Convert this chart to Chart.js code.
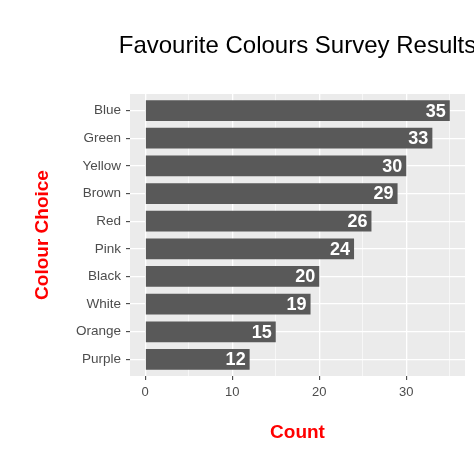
<!DOCTYPE html>
<html>
<head>
<meta charset="utf-8">
<script src="https://cdn.jsdelivr.net/npm/chart.js@4.4.1/dist/chart.umd.min.js"></script>
<style>
  html, body { margin: 0; padding: 0; background: #ffffff; }
  #wrap { width: 474px; height: 474px; }
</style>
</head>
<body>
<div id="wrap"><canvas id="chart" width="474" height="474"></canvas></div>
<script>
// survey data, top to bottom
const colours = ['Blue', 'Green', 'Yellow', 'Brown', 'Red', 'Pink', 'Black', 'White', 'Orange', 'Purple'];
const counts = [35, 33, 30, 29, 26, 24, 20, 19, 15, 12];
const xTicks = [0, 5, 10, 15, 20, 25, 30, 35];
const chartTitle = 'Favourite Colours Survey Results';

const FONT = '"Liberation Sans", Arial, sans-serif';

// grey panel behind the grid, ggplot style
const panelBg = {
    id: 'panelBg',
    beforeDraw(chart) {
        const a = chart.chartArea;
        const ctx = chart.ctx;
        ctx.save();
        ctx.fillStyle = '#EBEBEB';
        ctx.fillRect(a.left, a.top, a.right - a.left, a.bottom - a.top);
        ctx.restore();
    }
};

// title centred over the panel (Chart.js title squeezes text to the box width)
const panelTitle = {
    id: 'panelTitle',
    afterDraw(chart) {
        const a = chart.chartArea;
        const ctx = chart.ctx;
        ctx.save();
        ctx.fillStyle = '#000000';
        ctx.font = '24px ' + FONT;
        ctx.textAlign = 'center';
        ctx.textBaseline = 'alphabetic';
        ctx.fillText(chartTitle, (a.left + a.right) / 2, 53);
        ctx.restore();
    }
};

// white count labels inside the bar ends
const barLabels = {
    id: 'barLabels',
    afterDatasetsDraw(chart) {
        const ctx = chart.ctx;
        const meta = chart.getDatasetMeta(0);
        ctx.save();
        ctx.fillStyle = '#ffffff';
        ctx.font = 'bold 18px ' + FONT;
        ctx.textAlign = 'right';
        ctx.textBaseline = 'middle';
        meta.data.forEach((bar, i) => {
            ctx.fillText(String(counts[i]), bar.x - 4, bar.y + 1);
        });
        ctx.restore();
    }
};

const isMajor = v => v % 10 === 0;

new Chart(document.getElementById('chart'), {
    type: 'bar',
    data: {
        datasets: [{
            data: counts.map((c, i) => ({ x: c, y: i })),
            backgroundColor: '#595959',
            borderWidth: 0,
            barPercentage: 0.75,
            categoryPercentage: 1
        }]
    },
    options: {
        indexAxis: 'y',
        responsive: false,
        animation: false,
        devicePixelRatio: 1,
        layout: { padding: { left: 0, right: 9, top: 94, bottom: 0 } },
        plugins: {
            legend: { display: false },
            tooltip: { enabled: false },
            title: { display: false }
        },
        scales: {
            x: {
                type: 'linear',
                min: -1.75,
                max: 36.75,
                afterBuildTicks: s => { s.ticks = xTicks.map(v => ({ value: v })); },
                afterFit: s => { s.height = 98; },
                border: { display: false },
                grid: {
                    color: '#ffffff',
                    lineWidth: c => isMajor(c.tick.value) ? 1.3 : 0.6,
                    tickColor: c => isMajor(c.tick.value) ? '#333333' : 'rgba(0,0,0,0)',
                    tickLength: 4,
                    tickWidth: 1
                },
                ticks: {
                    color: '#4D4D4D',
                    font: { family: FONT, size: 13 },
                    padding: 5,
                    maxRotation: 0,
                    callback: v => isMajor(v) ? String(v) : ''
                },
                title: {
                    display: true,
                    text: 'Count',
                    color: '#FF0000',
                    font: { family: FONT, size: 19, weight: 'bold', lineHeight: 1.2 },
                    padding: { top: 0, bottom: 29.6 }
                }
            },
            y: {
                type: 'linear',
                reverse: true,
                offset: false,
                min: -0.6,
                max: colours.length - 1 + 0.6,
                afterBuildTicks: s => { s.ticks = colours.map((c, i) => ({ value: i })); },
                afterFit: s => { s.width = 130; },
                border: { display: false },
                grid: {
                    offset: false,
                    color: '#ffffff',
                    lineWidth: 1.3,
                    tickColor: '#333333',
                    tickLength: 4,
                    tickWidth: 1
                },
                ticks: {
                    color: '#4D4D4D',
                    font: { family: FONT, size: 13.5 },
                    padding: 5,
                    callback: v => colours[v]
                },
                title: {
                    display: true,
                    text: 'Colour Choice',
                    color: '#FF0000',
                    font: { family: FONT, size: 19, weight: 'bold', lineHeight: 1.2 },
                    padding: { top: 31.6, bottom: 0 }
                }
            }
        }
    },
    plugins: [panelBg, barLabels, panelTitle]
});
</script>
</body>
</html>
